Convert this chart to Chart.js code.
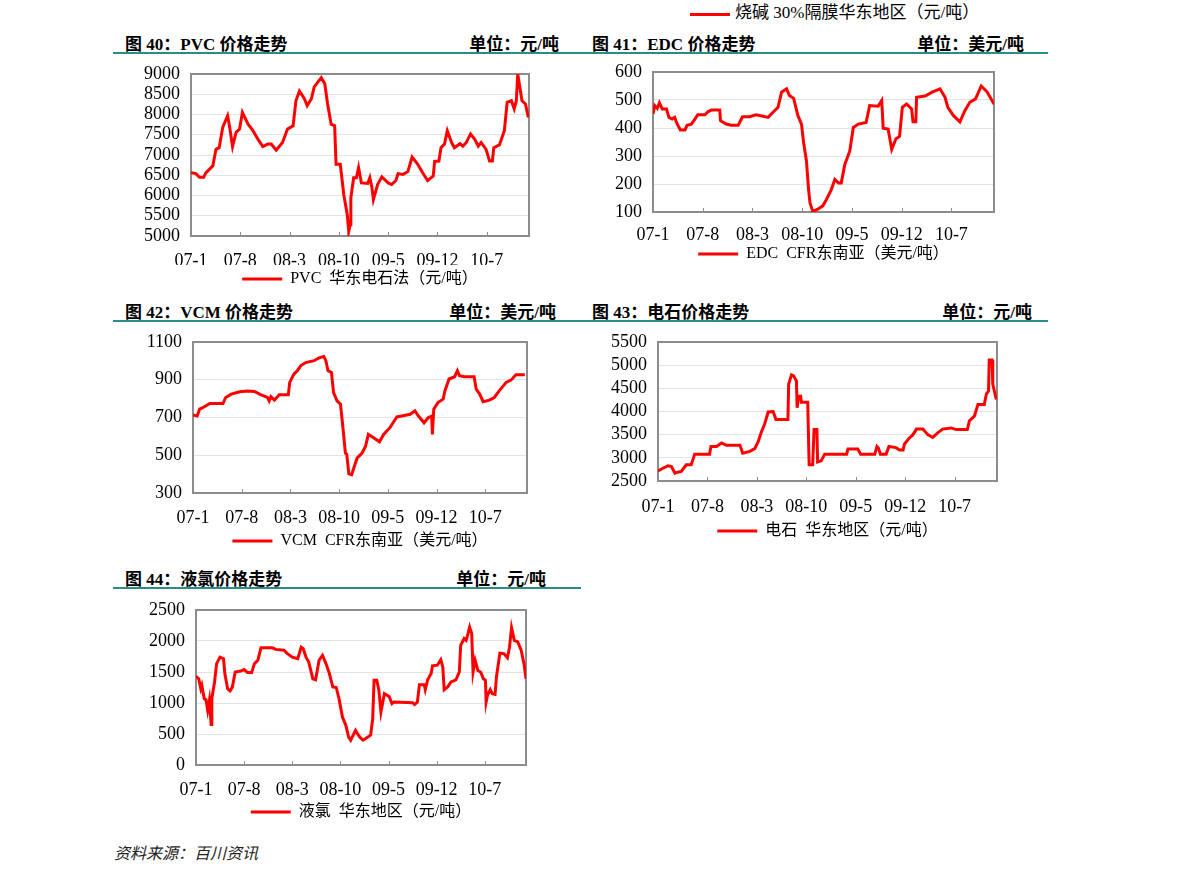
<!DOCTYPE html>
<html>
<head>
<meta charset="utf-8">
<script src="https://cdn.jsdelivr.net/npm/chart.js@4.4.0/dist/chart.umd.min.js"></script>
<style>
  body { margin: 0; width: 1190px; height: 873px; background: #fff; position: relative; overflow: hidden;
         font-family: "Liberation Serif", "Noto Sans CJK SC", serif; color: #000; }
  .hd { position: absolute; height: 20px; border-bottom: 2px solid #2b8c86; display: flex;
        justify-content: space-between; align-items: center; font-weight: bold; font-size: 17px; box-sizing: content-box; }
  .cv { position: absolute; }
  .top-legend { position: absolute; left: 690px; top: -2px; font-size: 17px; white-space: nowrap; }
  .top-legend i { display: inline-block; width: 40px; height: 3px; background: #ff0000; vertical-align: middle; margin-right: 5px; }
  .src { position: absolute; left: 114px; top: 840px; font-size: 16px; font-style: italic; color: #222; }
</style>
</head>
<body>

<div class="top-legend"><i></i>烧碱 30%隔膜华东地区（元/吨）</div>

<div class="hd" style="left:113px;top:32px;width:464px;padding-left:12px;">
  <span>图 40：PVC 价格走势</span><span style="margin-right:30px">单位：元/吨</span></div>
<div class="hd" style="left:580px;top:32px;width:456px;padding-left:12px;">
  <span>图 41：EDC 价格走势</span><span style="margin-right:24px">单位：美元/吨</span></div>
<div class="hd" style="left:113px;top:300px;width:464px;padding-left:12px;">
  <span>图 42：VCM 价格走势</span><span style="margin-right:33px">单位：美元/吨</span></div>
<div class="hd" style="left:580px;top:300px;width:456px;padding-left:12px;">
  <span>图 43：电石价格走势</span><span style="margin-right:16px">单位：元/吨</span></div>
<div class="hd" style="left:113px;top:567px;width:456px;padding-left:12px;">
  <span>图 44：液氯价格走势</span><span style="margin-right:35px">单位：元/吨</span></div>

<div class="cv" id="w1"><canvas id="c1"></canvas></div>
<div class="cv" id="w2"><canvas id="c2"></canvas></div>
<div class="cv" id="w3"><canvas id="c3"></canvas></div>
<div class="cv" id="w4"><canvas id="c4"></canvas></div>
<div class="cv" id="w5"><canvas id="c5"></canvas></div>

<div class="src">资料来源：百川资讯</div>

<script>
// months counted from 2007-01
const tickMonths = [0, 7, 14, 21, 28, 35, 42];
const tickLabels = ['07-1', '07-8', '08-3', '08-10', '09-5', '09-12', '10-7'];

const pvcPrices = [[0,6560],[0.7,6540],[1.2,6450],[1.8,6450],[2.1,6560],[3.1,6730],[3.55,7140],[4,7180],[4.5,7680],
  [5.2,7970],[5.5,7680],[5.9,7210],[6.4,7560],[6.9,7640],[7.3,8050],[8.1,7760],[8.8,7600],[9.5,7390],[10.2,7210],
  [10.9,7270],[11.4,7270],[12.1,7120],[13,7310],[13.7,7640],[14.5,7720],[14.9,8340],[15.4,8580],[16.1,8390],
  [16.5,8220],[17.1,8390],[17.5,8680],[18.5,8910],[19,8760],[19.4,8260],[19.9,7760],[20.4,7720],[20.6,6770],
  [21.2,6770],[21.7,6020],[22.2,5520],[22.4,5110],[22.6,5280],[22.7,5940],[23.1,6440],[23.5,6440],[23.8,6690],
  [24.2,6310],[25.1,6300],[25.4,6440],[25.7,6190],[25.9,5900],[26.5,6270],[27.1,6460],[28,6310],[28.5,6270],
  [29.1,6370],[29.4,6540],[30.1,6520],[30.8,6590],[31.4,6950],[32.2,6770],[32.9,6560],[33.6,6370],[34.4,6480],
  [34.6,6840],[35.2,6850],[35.5,7180],[36,7270],[36.4,7600],[37,7310],[37.4,7180],[38.2,7280],[38.6,7220],
  [39.1,7310],[39.7,7520],[40.3,7390],[40.8,7220],[41.2,7310],[41.9,7140],[42.4,6850],[42.8,6850],[43,7180],
  [43.8,7250],[44.5,7600],[44.9,8300],[45.5,8340],[45.9,8140],[46.2,8340],[46.4,9000],[46.7,8680],[47,8340],
  [47.5,8260],[47.9,7930]];

const edcPrices = [[0,450],[0.25,480],[0.6,470],[0.9,490],[1.3,468],[1.9,468],[2.25,438],[2.7,432],[3.05,438],
  [3.3,420],[3.85,393],[4.5,393],[4.8,410],[5.4,414],[5.9,432],[6.3,447],[7.3,447],[7.75,458],[8.2,464],[9.4,464],
  [9.5,426],[10.3,414],[11,410],[12,410],[12.6,440],[13.6,440],[14.5,447],[15.5,442],[16.2,438],[16.9,456],
  [17.6,474],[18.1,528],[18.8,540],[19.2,516],[19.8,506],[20.4,444],[20.9,414],[21.2,348],[21.6,282],[21.9,180],
  [22.1,132],[22.5,102],[23.2,110],[23.9,122],[24.4,144],[25.1,180],[25.6,216],[26.1,204],[26.5,204],[27,270],
  [27.7,318],[28.2,402],[28.9,414],[30,420],[30.5,480],[31.7,478],[32.2,498],[32.4,399],[33.1,396],[33.6,324],
  [34.2,362],[34.7,370],[35.1,474],[35.7,486],[36.4,468],[36.6,422],[37,422],[37.1,510],[38.3,514],[39.3,528],
  [40.4,540],[41.1,510],[41.5,474],[42.3,444],[43.2,422],[43.9,462],[44.6,492],[45.4,504],[46.2,550],[47,530],
  [48,486]];

const vcmPrices = [[0,713],[0.6,708],[0.95,744],[1.4,752],[2.4,774],[4.3,774],[4.7,806],[5.5,824],[6.7,836],
  [7.9,841],[8.8,838],[9.8,820],[10.7,806],[10.95,788],[11.2,810],[11.7,792],[12.4,820],[13.7,820],[13.9,886],
  [14.5,930],[15,948],[15.5,975],[16.2,991],[17.4,1001],[18.1,1016],[18.8,1023],[19.1,1001],[19.4,948],
  [19.9,939],[20.2,832],[20.7,788],[21.2,770],[21.5,664],[21.9,512],[22.1,504],[22.4,401],[22.8,397],[23.3,454],
  [23.6,486],[24.3,512],[24.8,548],[25.2,610],[25.95,593],[26.8,571],[27.4,610],[28.3,646],[29.3,703],[30,708],
  [31.2,717],[31.9,735],[32.4,708],[33.2,672],[33.8,699],[34.3,708],[34.4,610],[34.6,744],[35.2,779],[35.95,797],
  [36.2,841],[36.8,904],[37.6,916],[38,948],[38.3,921],[39,916],[40.4,916],[40.7,850],[41.2,824],[41.7,784],
  [42.6,792],[43.3,806],[44,841],[45,886],[45.7,898],[46.4,927],[47.7,927]];

const carbidePrices = [[0,2717],[0.7,2775],[1.4,2826],[1.9,2810],[2.4,2670],[2.8,2690],[3.3,2705],[4,2850],
  [4.7,2850],[5.2,3080],[7.3,3080],[7.5,3245],[8.3,3245],[9,3320],[9.7,3270],[11.6,3270],[12,3100],[13,3140],
  [13.7,3200],[14.2,3355],[14.6,3540],[15.1,3730],[15.6,3990],[16.3,4000],[16.7,3830],[18.4,3830],[18.5,4590],
  [18.9,4790],[19.2,4770],[19.6,4660],[19.7,4080],[19.9,4330],[20.2,4330],[20.3,4200],[21.2,4200],[21.4,2850],
  [21.9,2850],[22.1,3610],[22.5,3610],[22.6,2910],[23.1,2935],[23.6,3080],[26.7,3080],[26.9,3190],[28.3,3190],
  [28.7,3080],[30.7,3080],[31,3245],[31.2,3210],[31.5,3080],[32.3,3080],[32.7,3245],[33.7,3220],[34.2,3170],
  [34.7,3170],[34.9,3300],[35.6,3430],[36.1,3500],[36.6,3620],[37.5,3620],[38.2,3500],[38.9,3440],[39.6,3540],
  [40.3,3620],[41.5,3645],[42.2,3610],[43.8,3610],[44.1,3800],[44.8,3900],[45.3,4150],[46.2,4150],[46.5,4380],
  [46.8,4440],[46.9,5110],[47.3,5110],[47.4,4590],[47.9,4260]];

const chlorinePrices = [[0,1430],[0.4,1390],[0.7,1230],[0.85,1285],[1.2,1070],[1.45,1055],[1.7,880],[1.95,1045],
  [2.2,655],[2.3,1070],[2.7,1340],[3,1635],[3.5,1740],[4,1715],[4.2,1470],[4.6,1230],[4.95,1195],[5.3,1260],
  [5.7,1500],[6.5,1515],[7,1540],[7.5,1490],[8.1,1490],[8.5,1635],[9,1690],[9.45,1890],[11.1,1890],[11.6,1865],
  [12.8,1850],[13.3,1795],[14,1740],[14.8,1715],[15.3,1900],[15.6,1875],[16,1740],[16.4,1660],[17,1390],
  [17.4,1375],[17.9,1690],[18.4,1770],[18.9,1635],[19.4,1475],[19.9,1260],[20.4,1250],[20.8,1070],[21.3,775],
  [21.8,640],[22.2,450],[22.5,400],[23.2,560],[23.8,450],[24.3,400],[25,450],[25.4,480],[25.7,745],[25.9,1365],
  [26.3,1365],[26.6,1205],[26.9,855],[27.4,1150],[28.1,1105],[28.5,990],[28.8,1015],[31.5,1005],[31.8,975],
  [32.2,1015],[32.5,1295],[33.2,1295],[33.35,1215],[33.7,1375],[34.2,1475],[34.4,1600],[35.1,1610],[35.6,1700],
  [35.9,1580],[36.1,1215],[36.6,1260],[37.1,1340],[37.8,1375],[38.3,1500],[38.5,1930],[39,2040],[39.3,2010],
  [39.5,2090],[39.8,2225],[40.1,2120],[40.3,1500],[40.6,1690],[41,1525],[41.4,1500],[41.8,1390],[42.1,1365],
  [42.2,1015],[42.4,1125],[42.8,1215],[43.1,1150],[43.5,1140],[43.7,1420],[44.2,1805],[44.8,1795],[45.3,1730],
  [45.6,1900],[45.9,2215],[46.3,2010],[46.8,1985],[47.3,1850],[47.7,1635],[48,1390]];

// frame round the plot and short x tick marks pointing inward
const framePlugin = {
  id: 'frame',
  beforeDatasetsDraw(chart) {
    const { ctx, chartArea: a, scales } = chart;
    ctx.save();
    ctx.strokeStyle = '#8c8c8c';
    ctx.lineWidth = 1;
    tickMonths.forEach(m => {
      const x = Math.round(scales.x.getPixelForValue(m)) + 0.5;
      ctx.beginPath();
      ctx.moveTo(x, a.bottom);
      ctx.lineTo(x, a.bottom - 4);
      ctx.stroke();
    });
    ctx.lineWidth = 2;
    ctx.strokeRect(a.left, a.top, a.right - a.left, a.bottom - a.top);
    ctx.restore();
  }
};

// y axis width, top padding (must exceed half label height + tick padding), right padding
const Y_W = 60, PAD_T = 26, PAD_R = 12;
const tickFont = { family: '"Liberation Serif", "Noto Sans CJK SC", serif', size: 18 };
const legendFont = { family: '"Liberation Serif", "Noto Sans CJK SC", serif', size: 16 };

function makeChart(id, box, label, series, yMin, yMax, yStep) {
  const [L, T, R, B, labGap, legGap] = box;
  const legendH = legendFont.size + 6 + 10;
  const xH = legGap - 6 - legendFont.size / 2;
  const wrap = document.getElementById('w' + id);
  const w = (R - L) + Y_W + PAD_R;
  const h = PAD_T + (B - T) + xH + legendH;
  wrap.style.left = (L - Y_W) + 'px';
  wrap.style.top = (T - PAD_T) + 'px';
  wrap.style.width = w + 'px';
  wrap.style.height = h + 'px';

  new Chart(document.getElementById('c' + id), {
    type: 'line',
    data: {
      datasets: [{
        label: label,
        data: series.map(p => ({ x: p[0], y: p[1] })),
        borderColor: '#ff0000',
        backgroundColor: '#ff0000',
        borderWidth: 3,
        pointRadius: 0,
        tension: 0,
        fill: false
      }]
    },
    options: {
      responsive: true,
      maintainAspectRatio: false,
      animation: false,
      layout: { padding: { left: 0, right: PAD_R, top: PAD_T, bottom: 0 } },
      plugins: {
        legend: {
          position: 'bottom',
          fullSize: false,
          labels: {
            usePointStyle: true,
            pointStyle: 'line',
            pointStyleWidth: 40,
            padding: 6,
            color: '#000',
            font: legendFont
          }
        },
        tooltip: { enabled: false }
      },
      scales: {
        x: {
          type: 'linear',
          min: 0,
          max: 48,
          afterBuildTicks: s => { s.ticks = tickMonths.map(v => ({ value: v })); },
          afterFit: s => { s.height = xH; },
          grid: { display: false, drawTicks: false },
          border: { display: false },
          ticks: {
            padding: labGap - 10,
            maxRotation: 0,
            autoSkip: false,
            color: '#000',
            font: tickFont,
            callback: v => tickLabels[tickMonths.indexOf(v)]
          }
        },
        y: {
          min: yMin,
          max: yMax,
          afterFit: s => { s.width = Y_W; },
          grid: { color: '#e4e4e4', lineWidth: 1, drawTicks: false },
          border: { display: false },
          ticks: {
            stepSize: yStep,
            autoSkip: false,
            padding: 11,
            color: '#000',
            font: tickFont,
            callback: v => String(v)
          }
        }
      }
    },
    plugins: [framePlugin]
  });
}

makeChart(1, [191, 74, 529, 236, 24, 43], 'PVC  华东电石法（元/吨）', pvcPrices, 5000, 9000, 500);
makeChart(2, [653, 72, 994, 212, 22, 42], 'EDC  CFR东南亚（美元/吨）', edcPrices, 100, 600, 100);
makeChart(3, [193, 342, 527, 493, 24, 48], 'VCM  CFR东南亚（美元/吨）', vcmPrices, 300, 1100, 200);
makeChart(4, [658, 342, 997, 481, 25, 50], '电石  华东地区（元/吨）', carbidePrices, 2500, 5500, 500);
makeChart(5, [196, 610, 526, 765, 24, 47], '液氯  华东地区（元/吨）', chlorinePrices, 0, 2500, 500);
</script>
</body>
</html>
